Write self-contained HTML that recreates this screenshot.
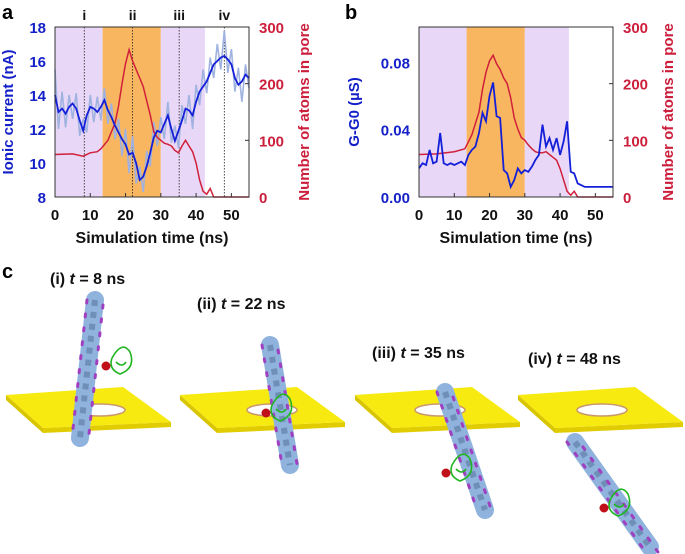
<!DOCTYPE html>
<html><head><meta charset="utf-8"><style>
body{margin:0;background:#fff}
svg{display:block;font-family:"Liberation Sans",Arial,sans-serif;font-weight:bold}
</style></head><body>
<svg id="fig" width="685" height="554" viewBox="0 0 685 554">
<g id="pa"></g>
<g id="pb"></g>
<g id="pc">
<text x="2" y="278" font-size="20">c</text>
</g>
</svg>
<script>
const timesA=[0,1,2,3,4,5,6,7,8,9,10,11,12,13,14,15,16,17,18,19,20,21,22,23,24,25,26,27,28,29,30,31,32,33,34,35,36,37,38,39,40,41,42,43,44,45,46,47,48,49,50,51,52,53,54,55];
const currentA=[14.0,13.0,13.2,12.9,13.3,13.5,13.2,12.5,11.9,12.8,13.3,13.2,13.0,13.3,13.7,13.1,12.7,12.2,11.8,11.4,11.1,10.5,10.6,10.0,9.0,9.2,9.8,10.6,11.5,11.9,11.8,12.3,12.8,12.0,11.3,11.9,12.5,13.2,13.1,12.8,13.6,14.2,14.5,14.8,15.3,15.8,16.0,16.2,16.3,16.1,15.8,15.0,14.6,14.8,15.2,15.0];
const currentRawA=[15.5,12.0,14.2,12.1,14.0,12.6,14.1,11.6,12.6,11.8,14.0,12.4,13.9,12.5,14.4,12.3,13.5,11.4,12.6,10.4,12.0,9.4,11.6,8.8,9.8,8.3,10.7,9.8,12.4,11.0,12.7,11.4,13.6,11.2,12.2,10.9,13.4,12.3,14.0,12.0,14.6,13.4,15.5,14.1,16.2,15.0,17.0,15.5,17.8,15.3,16.7,14.2,15.6,13.6,15.8,14.4];
const atomsTA=[0,5,8,10,12,13,15,17,18,19,20,21,22,23,24,25,26,27,28,29,30,31,32,33,34,35,36,37,38,39,40,41,42,43,44,45,50,55];
const atomsA=[75,76,72,78,80,85,100,130,160,200,235,260,240,225,210,195,170,145,115,105,100,95,93,90,82,78,90,100,90,80,60,30,10,5,15,0,0,0];
const timesB=[0,1,2,3,4,5,6,7,8,9,10,11,12,13,14,15,16,17,18,19,20,21,22,23,24,25,26,27,28,29,30,31,32,33,34,35,36,37,38,39,40,41,42,43,44,45,46,47,48,55];
const condB=[0.017,0.02,0.019,0.028,0.02,0.021,0.038,0.02,0.019,0.02,0.019,0.02,0.021,0.019,0.025,0.028,0.03,0.038,0.05,0.045,0.06,0.068,0.048,0.047,0.016,0.014,0.006,0.01,0.017,0.014,0.016,0.015,0.018,0.022,0.025,0.043,0.03,0.035,0.028,0.035,0.025,0.033,0.045,0.015,0.014,0.008,0.007,0.006,0.006,0.006];
const atomsTB=[0,5,10,13,15,17,18,19,20,21,22,23,24,25,26,27,28,29,30,31,32,33,34,35,36,37,38,39,40,41,42,43,44,45,55];
const atomsB=[75,76,80,85,110,150,190,220,240,250,235,225,210,200,175,140,120,105,100,92,85,80,78,78,80,75,70,65,50,30,10,3,10,0,0];
const ticksX=[0,10,20,30,40,50];
const ticksLA=[8,10,12,14,16,18];
const ticksLB=[0,0.04,0.08];
const tickLabelsLB=["0.00","0.04","0.08"];
const ticksR=[0,100,200,300];
const markers=[8.3,22,35.2,48];
const markerLabels=["i","ii","iii","iv"];
const regions=[[0,13.5,"#e9d7f7"],[13.5,30,"#f8b660"],[30,42.5,"#e9d7f7"]];

const NS="http://www.w3.org/2000/svg";
function mk(p,tag,attrs){const e=document.createElementNS(NS,tag);for(const k in attrs)e.setAttribute(k,attrs[k]);p.appendChild(e);return e;}
function txt(p,x,y,s,attrs){const e=mk(p,"text",Object.assign({x:x,y:y},attrs));e.textContent=s;return e;}
function lin(d0,d1,r0,r1){return v=>r0+(v-d0)/(d1-d0)*(r1-r0);}
function path(xs,ys,fx,fy){return xs.map((t,i)=>(i?"L":"M")+fx(t).toFixed(1)+","+fy(ys[i]).toFixed(1)).join("");}

function panel(g,o){
  const X=lin(0,55,o.x0,o.x1), YL=lin(o.lmin,o.lmax,197,27), YR=lin(0,300,197,27);
  regions.forEach((r,i)=>{const e=mk(g,"rect",{x:X(r[0]),y:27,width:X(r[1])-X(r[0]),height:170,fill:r[2]});
    });
  if(o.markers){markers.forEach((m,i)=>{const l=mk(g,"line",{x1:X(m),x2:X(m),y1:27,y2:197,stroke:"#222","stroke-width":0.8,"stroke-dasharray":"1.5,1.5"});
    
    const t=txt(g,X(m),20,markerLabels[i],{"font-size":14,"text-anchor":"middle",fill:"#111"});
    });}
  if(o.raw){const p=mk(g,"path",{d:path(timesA,o.raw,X,YL),fill:"none",stroke:"#9fb2e0","stroke-width":1.6});
    }
  const r=mk(g,"path",{d:path(o.rt,o.rv,X,YR),fill:"none",stroke:"#d0203a","stroke-width":1.5});
  
  const b=mk(g,"path",{d:path(o.bt,o.bv,X,YL),fill:"none",stroke:"#1420d8","stroke-width":1.8});
  
  const ax=mk(g,"rect",{x:o.x0,y:27,width:o.x1-o.x0,height:170,fill:"none",stroke:"#333","stroke-width":1});
  
  ticksX.forEach(t=>{const e=txt(g,X(t),220,String(t),{"font-size":15,"text-anchor":"middle",fill:"#111"});
    
    mk(g,"line",{x1:X(t),x2:X(t),y1:197,y2:193,stroke:"#333"});});
  o.lt.forEach((t,i)=>{const e=txt(g,o.x0-9,YL(t)+6,o.ll[i],{"font-size":15,"text-anchor":"end",fill:"#1420c8"});
    });
  ticksR.forEach(t=>{const e=txt(g,o.x1+10,YR(t)+6,String(t),{"font-size":15,fill:"#cc1f3c"});
    
    mk(g,"line",{x1:o.x1,x2:o.x1-4,y1:YR(t),y2:YR(t),stroke:"#333"});});
  const xt=txt(g,(o.x0+o.x1)/2,243,"Simulation time (ns)",{"font-size":16,"text-anchor":"middle",fill:"#111"});
  
  const lt=txt(g,0,0,o.ltitle,{"font-size":15,"text-anchor":"middle",fill:"#1420c8",transform:`translate(${o.ltx},112) rotate(-90)`});
  
  const rt=txt(g,0,0,"Number of atoms in pore",{"font-size":15,"text-anchor":"middle",fill:"#cc1f3c",transform:`translate(${o.x1+60},112) rotate(-90)`});
  
  const pl=txt(g,o.lx,19,o.label,{"font-size":20,fill:"#000"});
  
}
panel(document.getElementById("pa"),{x0:55,x1:249,lmin:8,lmax:18,lt:ticksLA,ll:ticksLA.map(String),ltitle:"Ionic current (nA)",ltx:13,
  raw:currentRawA,bt:timesA,bv:currentA,rt:atomsTA,rv:atomsA,markers:true,label:"a",lx:2});
panel(document.getElementById("pb"),{x0:419,x1:613,lmin:0,lmax:0.101,lt:ticksLB,ll:tickLabelsLB,ltitle:"G-G0 (\u00b5S)",ltx:359,
  bt:timesB,bv:condB,rt:atomsTB,rv:atomsB,markers:false,label:"b",lx:345});

// panel c illustrations
const pc=document.getElementById("pc");
const snaps=[
 {L:6,hx:100,dna:[[95,300],[80,438]],label:"(i) ",t:"8 ns",lx:50,ly:284,prot:[112,358]},
 {L:180,hx:272,dna:[[270,345],[290,465]],label:"(ii) ",t:"22 ns",lx:197,ly:309,prot:[272,405]},
 {L:355,hx:440,dna:[[445,392],[485,510]],label:"(iii) ",t:"35 ns",lx:372,ly:358,prot:[452,465]},
 {L:518,hx:602,dna:[[575,442],[650,547]],label:"(iv) ",t:"48 ns",lx:528,ly:364,prot:[610,500]}
];
function dna(g,a,b){
  mk(g,"line",{x1:a[0],y1:a[1],x2:b[0],y2:b[1],stroke:"#8fb3dd","stroke-width":18,"stroke-linecap":"round"});
  mk(g,"line",{x1:a[0],y1:a[1],x2:b[0],y2:b[1],stroke:"#6f8fb8","stroke-width":6,"stroke-dasharray":"6,6"});
  mk(g,"line",{x1:a[0]-8,y1:a[1],x2:b[0]-8,y2:b[1],stroke:"#a040c0","stroke-width":3,"stroke-dasharray":"3,11","stroke-linecap":"round"});
  mk(g,"line",{x1:a[0]+8,y1:a[1]+5,x2:b[0]+8,y2:b[1]+5,stroke:"#a040c0","stroke-width":3,"stroke-dasharray":"3,11","stroke-linecap":"round"});
}
snaps.forEach((s,i)=>{
  const g=mk(pc,"g",{});
  
  const L=s.L;
  mk(g,"polygon",{points:`${L},395 ${L+37},428 ${L+37},433 ${L},400`,fill:"#d9c400"});
  mk(g,"polygon",{points:`${L+37},428 ${L+165},422 ${L+165},427 ${L+37},433`,fill:"#e0cc00"});
  mk(g,"polygon",{points:`${L},395 ${L+117},387 ${L+165},422 ${L+37},428`,fill:"#f7ea10"});
  mk(g,"ellipse",{cx:s.hx,cy:410,rx:25,ry:6,fill:"#fff",stroke:"#c99870","stroke-width":1.5});
  dna(g,s.dna[0],s.dna[1]);
  mk(g,"path",{d:`M${s.prot[0]},${s.prot[1]} q10,-18 18,-6 q6,16 -10,22 q-12,-5 -8,-16 m4,4 q6,6 10,0`,fill:"none",stroke:"#22b522","stroke-width":1.6});
  mk(g,"circle",{cx:s.prot[0]-6,cy:s.prot[1]+8,r:4.5,fill:"#c0101a"});
  const t=mk(g,"text",{x:s.lx,y:s.ly,"font-size":16,fill:"#111"});
  
  t.appendChild(document.createTextNode(s.label));
  const it=mk(t,"tspan",{"font-style":"italic"});it.textContent="t";
  t.appendChild(document.createTextNode(" = "+s.t));
});
</script>
</body></html>
